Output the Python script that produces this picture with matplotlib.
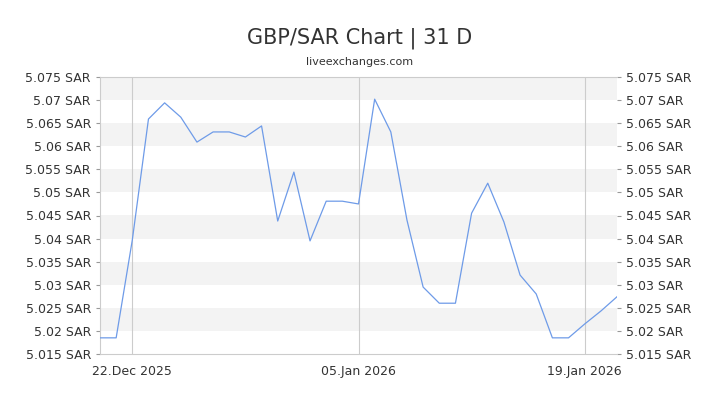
import matplotlib.pyplot as plt
import matplotlib.dates as mdates
import numpy as np
import pandas as pd

dates = pd.date_range("2025-12-20", "2026-01-21", freq="D")
rates = [5.0185, 5.0185, 5.0397, 5.0659, 5.0694, 5.0663, 5.0609, 5.0631, 5.0631,
         5.0620, 5.0644, 5.0438, 5.0544, 5.0395, 5.0481, 5.0481, 5.0475, 5.0702,
         5.0631, 5.0440, 5.0295, 5.0260, 5.0260, 5.0455, 5.0520, 5.0436, 5.0321,
         5.0280, 5.0185, 5.0185, 5.0215, 5.0243, 5.0274]
ticks = np.round(np.arange(5.015, 5.0751, 0.005), 3)
tick_labels = [f"{t:g} SAR" for t in ticks]
xtick_dates = pd.to_datetime(["2025-12-22", "2026-01-05", "2026-01-19"])
xtick_labels = ["22.Dec 2025", "05.Jan 2026", "19.Jan 2026"]

fig = plt.figure(figsize=(7.2, 4.05), dpi=100)
ax = fig.add_axes([100/720, 1-354/405, 517/720, 277/405])

for lo in ticks[1::2]:
    ax.axhspan(lo, lo + 0.005, color="#f3f3f3", zorder=0, lw=0)
for d in xtick_dates:
    ax.axvline(d, color="#cccccc", lw=0.8, zorder=1)

ax.plot(dates, rates, color="#6e9be8", lw=0.9, zorder=3)

ax.set_xlim(dates[0], dates[-1])
ax.set_ylim(5.015, 5.075)
ax.set_yticks(ticks)
ax.set_yticklabels(tick_labels)
ax.set_xticks(xtick_dates)
ax.set_xticklabels(xtick_labels)
ax.tick_params(axis="y", labelsize=9, colors="#333333", length=3, color="#999999",
               labelleft=True, labelright=True, right=True)
ax.tick_params(axis="x", labelsize=9, colors="#333333", length=0, pad=8)
for s in ["top", "left", "bottom"]:
    ax.spines[s].set_color("#cccccc")
ax.spines["right"].set_visible(False)

fig.text(0.5, 1-38/405, "GBP/SAR Chart | 31 D", ha="center", va="center",
         fontsize=15, color="#333333")
fig.text(0.5, 1-62/405, "liveexchanges.com", ha="center", va="center",
         fontsize=8, color="#333333")

fig.savefig("out.png", dpi=100)
